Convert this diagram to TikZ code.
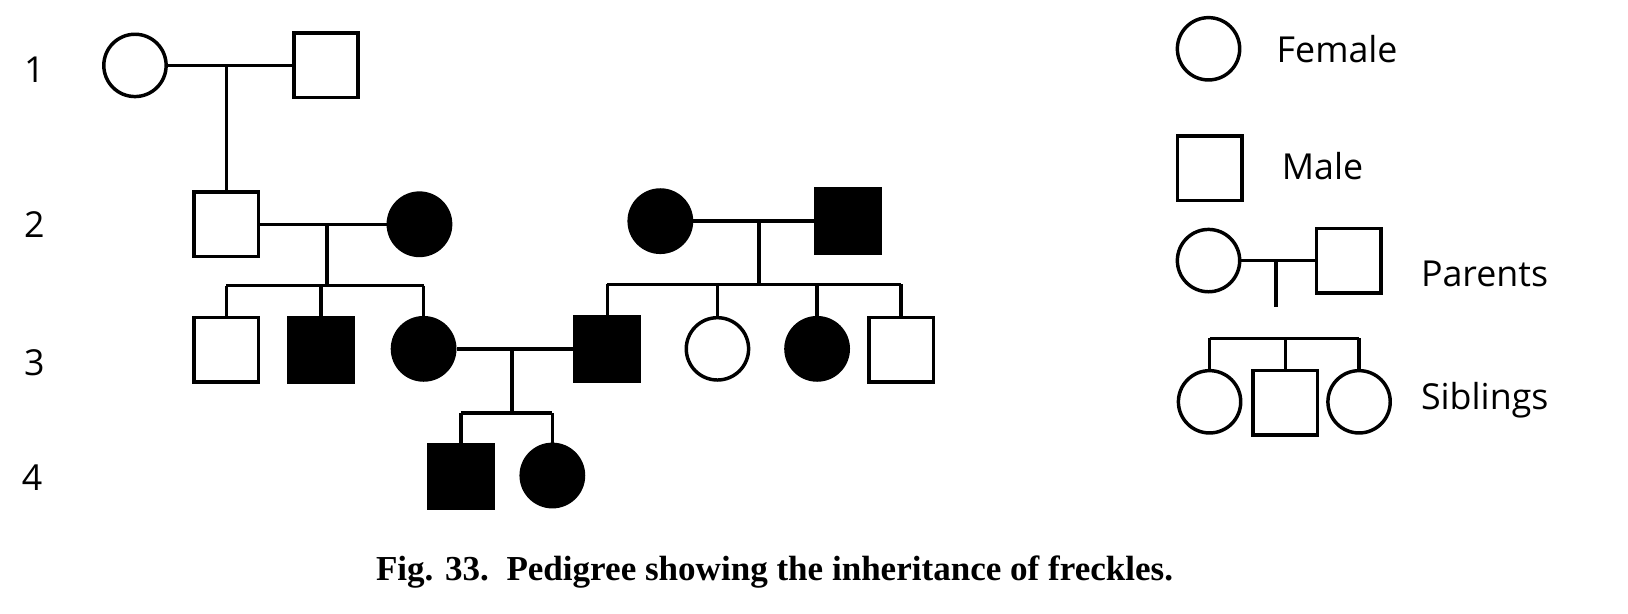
\documentclass[tikz,border=0pt]{standalone}
\usepackage{fontspec}
\setmainfont{Open Sans}
\newfontfamily\capfont{Liberation Serif}
\begin{document}
\begin{tikzpicture}[x=0.01cm,y=-0.01cm, line width=0.95pt,
  fem/.style={circle,draw,minimum size=0.6cm,inner sep=0pt},
  mal/.style={rectangle,draw,minimum size=0.62cm,inner sep=0pt},
  aff/.style={fill=black},
  lbl/.style={font=\fontsize{9.8}{11}\selectfont, inner sep=0pt},
  capstyle/.style={font=\capfont\bfseries\fontsize{9.6}{11}\selectfont, inner sep=0pt}]
\useasboundingbox (0,0) rectangle (1568,591);
% generation labels
\node[lbl,anchor=base] (r1) at (33,79) {1};
\node[lbl,anchor=base] (r2) at (33,229) {2};
\node[lbl,anchor=base] (r3) at (33,362) {3};
\node[lbl,anchor=base] (r4) at (31,472) {4};
% generation 1
\node[fem] (g1f) at (130,63) {};
\node[mal] (g1m) at (314,63) {};
% generation 2
\node[mal] (g2a) at (218,216) {};
\node[fem,aff] (g2b) at (404,216) {};
\node[fem,aff] (g2c) at (636,213) {};
\node[mal,aff] (g2d) at (817,213) {};
% generation 3
\node[mal] (g3a) at (218,337) {};
\node[mal,aff] (g3b) at (309,337) {};
\node[fem,aff] (g3c) at (408,336) {};
\node[mal,aff] (g3d) at (585,336) {};
\node[fem] (g3e) at (691,336) {};
\node[fem,aff] (g3f) at (787,336) {};
\node[mal] (g3g) at (868,337) {};
% generation 4
\node[mal,aff] (g4a) at (444,459) {};
\node[fem,aff] (g4b) at (532,458) {};
% sibship coordinates
\coordinate (s2a) at (315,275);
\coordinate (s2b) at (731,274);
\coordinate (s3) at (493,398);
% gen1 mating and descent
\draw (g1f.east) -- (g1m.west);
\draw (g1f.east -| g2a.north) -- (g2a.north);
% gen2 left mating
\draw (g2a.east) -- (g2b.west);
\draw (g2a.east -| s2a) -- (s2a);
\draw (g3a.north |- s2a) -- (g3c.north |- s2a);
\draw (g3a.north |- s2a) -- (g3a.north);
\draw (g3b.north |- s2a) -- (g3b.north);
\draw (g3c.north |- s2a) -- (g3c.north);
% gen2 right mating
\draw (g2c.east) -- (g2d.west);
\draw (g2c.east -| s2b) -- (s2b);
\draw (g3d.north |- s2b) -- (g3g.north |- s2b);
\draw (g3d.north |- s2b) -- (g3d.north);
\draw (g3e.north |- s2b) -- (g3e.north);
\draw (g3f.north |- s2b) -- (g3f.north);
\draw (g3g.north |- s2b) -- (g3g.north);
% gen3 mating
\draw (g3c.east) -- (g3d.west);
\draw (g3c.east -| s3) -- (s3);
\draw (g4a.north |- s3) -- (g4b.north |- s3);
\draw (g4a.north |- s3) -- (g4a.north);
\draw (g4b.north |- s3) -- (g4b.north);
% legend
\node[fem] (lf) at (1164,47) {};
\node[lbl,anchor=base west] (tf) at (1228,60) {Female};
\node[mal] (lm) at (1165,162) {};
\node[lbl,anchor=base west] (tm) at (1233,173) {Male};
\node[fem] (lpf) at (1164,251) {};
\node[mal] (lpm) at (1299,251) {};
\coordinate (lpd) at (1229,296);
\draw (lpf.east) -- (lpm.west);
\draw (lpf.east -| lpd) -- (lpd);
\node[lbl,anchor=base west] (tp) at (1367,276) {Parents};
\node[fem] (ls1) at (1165,387) {};
\node[mal] (ls2) at (1238,388) {};
\node[fem] (ls3) at (1309,387) {};
\coordinate (lsb) at (1238,326);
\draw (ls1.north |- lsb) -- (ls3.north |- lsb);
\draw (ls1.north |- lsb) -- (ls1.north);
\draw (ls2.north |- lsb) -- (ls2.north);
\draw (ls3.north |- lsb) -- (ls3.north);
\node[lbl,anchor=base west] (ts) at (1367,394) {Siblings};
% caption
\node[capstyle,anchor=base] (caption) at (746,559) {Fig. 33.\ \ Pedigree showing the inheritance of freckles.};
\end{tikzpicture}
\end{document}
